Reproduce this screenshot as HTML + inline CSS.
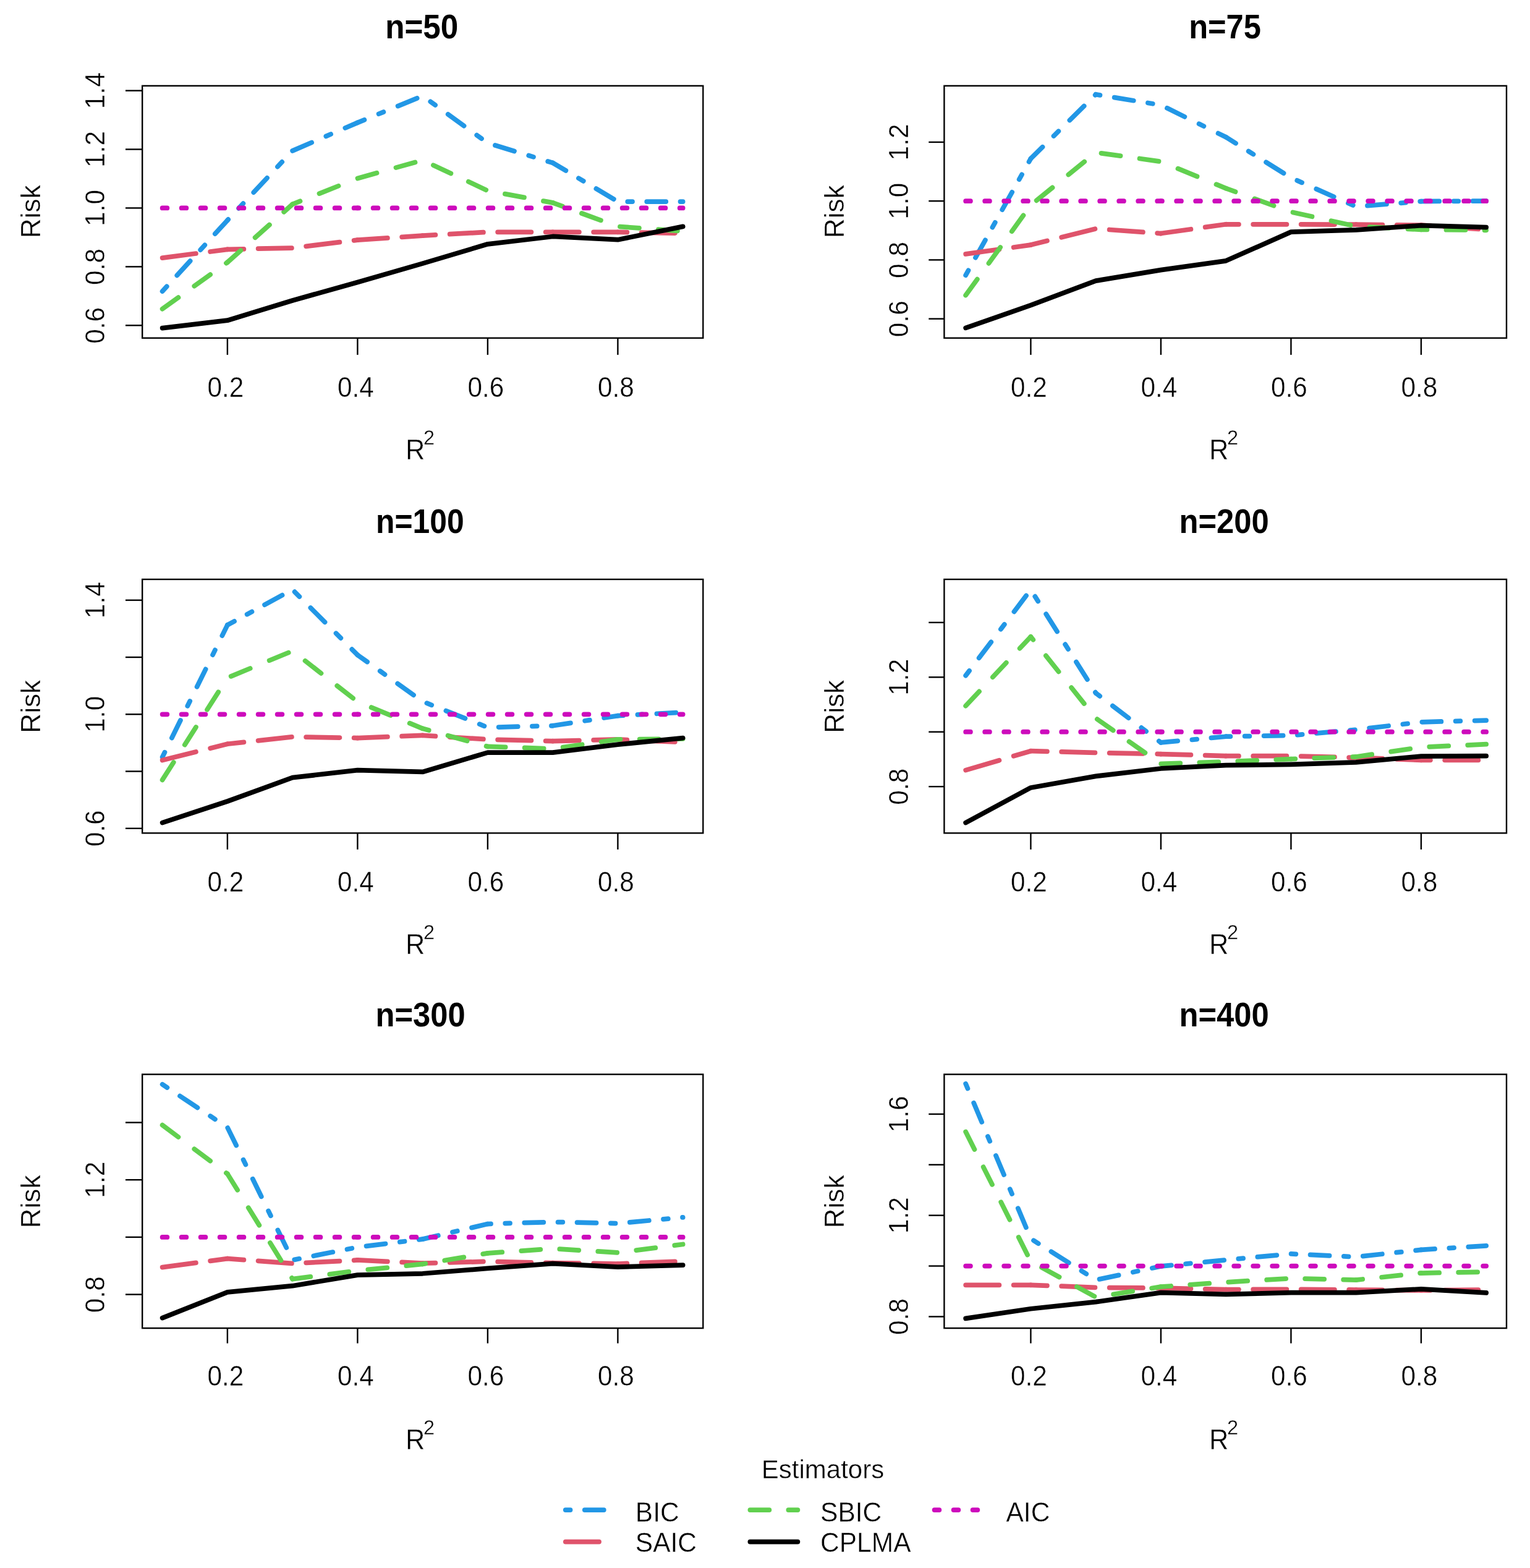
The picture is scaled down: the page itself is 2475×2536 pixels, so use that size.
<!DOCTYPE html>
<html><head><meta charset="utf-8"><title>Risk vs R2</title>
<style>html,body{margin:0;padding:0;background:#fff;}svg{display:block;}text{font-family:"Liberation Sans",Arial,Helvetica,sans-serif;fill:#000;}</style></head><body>
<svg width="2475" height="2536" viewBox="0 0 2475 2536">
<rect x="0" y="0" width="2475" height="2536" fill="#fff"/>
<clipPath id="clip0"><rect x="230.20" y="138.80" width="907.10" height="407.90"/></clipPath>
<g clip-path="url(#clip0)" fill="none" stroke-width="7.75" stroke-linecap="round" stroke-linejoin="round">
<g stroke="#2297E6">
<line x1="262.65" y1="471.23" x2="367.90" y2="356.37" stroke-dasharray="10.51 24.53 31.54 24.53" stroke-dashoffset="0.00"/>
<line x1="367.90" y1="356.37" x2="473.15" y2="243.89" stroke-dasharray="10.61 24.77 31.84 24.77" stroke-dashoffset="65.31"/>
<line x1="473.15" y1="243.89" x2="578.40" y2="198.33" stroke-dasharray="8.44 25.33 33.78 25.33" stroke-dashoffset="33.78"/>
<line x1="578.40" y1="198.33" x2="683.65" y2="155.14" stroke-dasharray="8.38 25.13 33.51 25.13" stroke-dashoffset="55.13"/>
<line x1="683.65" y1="155.14" x2="788.90" y2="231.32" stroke-dasharray="9.57 25.51 31.89 25.51" stroke-dashoffset="76.84"/>
<line x1="788.90" y1="231.32" x2="894.15" y2="263.35" stroke-dasharray="8.10 24.30 32.40 24.30" stroke-dashoffset="19.76"/>
<line x1="894.15" y1="263.35" x2="999.40" y2="326.00" stroke-dasharray="9.02 24.05 33.07 24.05" stroke-dashoffset="41.50"/>
<line x1="999.40" y1="326.00" x2="1104.65" y2="326.00" stroke-dasharray="7.75 23.25 31.00 23.25" stroke-dashoffset="69.40"/>
</g>
<g stroke="#DF536B">
<line x1="262.65" y1="417.12" x2="367.90" y2="403.36" stroke-dasharray="54.71 23.45" stroke-dashoffset="0.00"/>
<line x1="367.90" y1="403.36" x2="473.15" y2="400.99" stroke-dasharray="54.26 23.26" stroke-dashoffset="27.76"/>
<line x1="473.15" y1="400.99" x2="578.40" y2="388.17" stroke-dasharray="54.65 23.42" stroke-dashoffset="55.91"/>
<line x1="578.40" y1="388.17" x2="683.65" y2="381.05" stroke-dasharray="54.37 23.30" stroke-dashoffset="5.76"/>
<line x1="683.65" y1="381.05" x2="788.90" y2="375.36" stroke-dasharray="54.33 23.28" stroke-dashoffset="33.55"/>
<line x1="788.90" y1="375.36" x2="894.15" y2="375.36" stroke-dasharray="54.25 23.25" stroke-dashoffset="61.25"/>
<line x1="894.15" y1="375.36" x2="999.40" y2="375.36" stroke-dasharray="54.25 23.25" stroke-dashoffset="11.50"/>
<line x1="999.40" y1="375.36" x2="1104.65" y2="377.26" stroke-dasharray="54.26 23.25" stroke-dashoffset="39.26"/>
</g>
<g stroke="#61D04F">
<line x1="262.65" y1="499.70" x2="367.90" y2="424.24" stroke-dasharray="31.79 31.79" stroke-dashoffset="0.00"/>
<line x1="367.90" y1="424.24" x2="473.15" y2="330.27" stroke-dasharray="31.17 31.17" stroke-dashoffset="2.31"/>
<line x1="473.15" y1="330.27" x2="578.40" y2="288.51" stroke-dasharray="33.35 33.35" stroke-dashoffset="20.05"/>
<line x1="578.40" y1="288.51" x2="683.65" y2="259.08" stroke-dasharray="32.19 32.19" stroke-dashoffset="64.26"/>
<line x1="683.65" y1="259.08" x2="788.90" y2="308.44" stroke-dasharray="31.39 31.39" stroke-dashoffset="43.67"/>
<line x1="788.90" y1="308.44" x2="894.15" y2="327.90" stroke-dasharray="31.53 31.53" stroke-dashoffset="34.53"/>
<line x1="894.15" y1="327.90" x2="999.40" y2="366.34" stroke-dasharray="33.00 33.00" stroke-dashoffset="16.18"/>
<line x1="999.40" y1="366.34" x2="1104.65" y2="373.93" stroke-dasharray="31.08 31.08" stroke-dashoffset="58.60"/>
</g>
<polyline points="262.65,530.55 367.90,518.21 473.15,485.94 578.40,456.51 683.65,426.14 788.90,394.82 894.15,382.48 999.40,387.70 1104.65,366.34" stroke="#000000"/>
<g stroke="#CD0BBC">
<line x1="262.65" y1="336.44" x2="367.90" y2="336.44" stroke-dasharray="7.75 23.25" stroke-dashoffset="0.00"/>
<line x1="367.90" y1="336.44" x2="473.15" y2="336.44" stroke-dasharray="7.75 23.25" stroke-dashoffset="12.25"/>
<line x1="473.15" y1="336.44" x2="578.40" y2="336.44" stroke-dasharray="7.75 23.25" stroke-dashoffset="24.50"/>
<line x1="578.40" y1="336.44" x2="683.65" y2="336.44" stroke-dasharray="7.75 23.25" stroke-dashoffset="5.75"/>
<line x1="683.65" y1="336.44" x2="788.90" y2="336.44" stroke-dasharray="7.75 23.25" stroke-dashoffset="18.00"/>
<line x1="788.90" y1="336.44" x2="894.15" y2="336.44" stroke-dasharray="7.75 23.25" stroke-dashoffset="30.25"/>
<line x1="894.15" y1="336.44" x2="999.40" y2="336.44" stroke-dasharray="7.75 23.25" stroke-dashoffset="11.50"/>
<line x1="999.40" y1="336.44" x2="1104.65" y2="336.44" stroke-dasharray="7.75 23.25" stroke-dashoffset="23.75"/>
</g>
</g>
<rect x="230.20" y="138.80" width="907.10" height="407.90" fill="none" stroke="#000" stroke-width="2.4"/>
<line x1="367.90" y1="546.70" x2="367.90" y2="573.90" stroke="#000" stroke-width="2.4"/>
<text transform="translate(364.90,641.80) scale(1.0,1.09)" font-size="42.3" text-anchor="middle" stroke="#fff" stroke-width="0.4">0.2</text>
<line x1="578.40" y1="546.70" x2="578.40" y2="573.90" stroke="#000" stroke-width="2.4"/>
<text transform="translate(575.40,641.80) scale(1.0,1.09)" font-size="42.3" text-anchor="middle" stroke="#fff" stroke-width="0.4">0.4</text>
<line x1="788.90" y1="546.70" x2="788.90" y2="573.90" stroke="#000" stroke-width="2.4"/>
<text transform="translate(785.90,641.80) scale(1.0,1.09)" font-size="42.3" text-anchor="middle" stroke="#fff" stroke-width="0.4">0.6</text>
<line x1="999.40" y1="546.70" x2="999.40" y2="573.90" stroke="#000" stroke-width="2.4"/>
<text transform="translate(996.40,641.80) scale(1.0,1.09)" font-size="42.3" text-anchor="middle" stroke="#fff" stroke-width="0.4">0.8</text>
<line x1="230.20" y1="526.28" x2="203.00" y2="526.28" stroke="#000" stroke-width="2.4"/>
<line x1="230.20" y1="431.36" x2="203.00" y2="431.36" stroke="#000" stroke-width="2.4"/>
<line x1="230.20" y1="336.44" x2="203.00" y2="336.44" stroke="#000" stroke-width="2.4"/>
<line x1="230.20" y1="241.52" x2="203.00" y2="241.52" stroke="#000" stroke-width="2.4"/>
<line x1="230.20" y1="146.60" x2="203.00" y2="146.60" stroke="#000" stroke-width="2.4"/>
<text transform="translate(168.70,526.28) rotate(-90) scale(1.0,1.035)" font-size="42.5" text-anchor="middle" stroke="#fff" stroke-width="0.4">0.6</text>
<text transform="translate(168.70,431.36) rotate(-90) scale(1.0,1.035)" font-size="42.5" text-anchor="middle" stroke="#fff" stroke-width="0.4">0.8</text>
<text transform="translate(168.70,336.44) rotate(-90) scale(1.0,1.035)" font-size="42.5" text-anchor="middle" stroke="#fff" stroke-width="0.4">1.0</text>
<text transform="translate(168.70,241.52) rotate(-90) scale(1.0,1.035)" font-size="42.5" text-anchor="middle" stroke="#fff" stroke-width="0.4">1.2</text>
<text transform="translate(168.70,146.60) rotate(-90) scale(1.0,1.035)" font-size="42.5" text-anchor="middle" stroke="#fff" stroke-width="0.4">1.4</text>
<text transform="translate(682.25,61.80) scale(1.0044642857142858,1.085)" font-size="51" text-anchor="middle" font-weight="bold">n=50</text>
<text transform="translate(64.90,342.20) rotate(-90) scale(1.0,1.0)" font-size="44.3" text-anchor="middle" stroke="#fff" stroke-width="0.4">Risk</text>
<text transform="translate(656.30,742.70) scale(1.0,1.07)" font-size="43" text-anchor="start" stroke="#fff" stroke-width="0.4">R</text>
<text transform="translate(685.10,718.70) scale(1.0,1.0)" font-size="32.5" text-anchor="start" stroke="#fff" stroke-width="0.4">2</text>
<clipPath id="clip1"><rect x="1527.40" y="138.80" width="909.60" height="407.90"/></clipPath>
<g clip-path="url(#clip1)" fill="none" stroke-width="7.75" stroke-linecap="round" stroke-linejoin="round">
<g stroke="#2297E6">
<line x1="1562.15" y1="445.14" x2="1667.40" y2="256.57" stroke-dasharray="8.88 23.67 32.54 23.67" stroke-dashoffset="0.00"/>
<line x1="1667.40" y1="256.57" x2="1772.65" y2="152.76" stroke-dasharray="10.89 25.40 32.66 25.40" stroke-dashoffset="42.21"/>
<line x1="1772.65" y1="152.76" x2="1877.90" y2="169.90" stroke-dasharray="7.85 23.56 31.41 23.56" stroke-dashoffset="0.98"/>
<line x1="1877.90" y1="169.90" x2="1983.15" y2="221.80" stroke-dasharray="8.64 25.92 31.68 25.92" stroke-dashoffset="23.38"/>
<line x1="1983.15" y1="221.80" x2="2088.40" y2="287.52" stroke-dasharray="9.14 24.36 33.50 24.36" stroke-dashoffset="48.30"/>
<line x1="2088.40" y1="287.52" x2="2193.65" y2="334.19" stroke-dasharray="8.48 25.43 31.08 25.43" stroke-dashoffset="79.62"/>
<line x1="2193.65" y1="334.19" x2="2298.90" y2="325.62" stroke-dasharray="7.78 23.33 31.10 23.33" stroke-dashoffset="12.75"/>
<line x1="2298.90" y1="325.62" x2="2404.15" y2="325.14" stroke-dasharray="7.75 23.25 31.00 23.25" stroke-dashoffset="32.71"/>
</g>
<g stroke="#DF536B">
<line x1="1562.15" y1="410.86" x2="1667.40" y2="396.09" stroke-dasharray="54.78 23.48" stroke-dashoffset="0.00"/>
<line x1="1667.40" y1="396.09" x2="1772.65" y2="369.90" stroke-dasharray="55.90 23.96" stroke-dashoffset="28.60"/>
<line x1="1772.65" y1="369.90" x2="1877.90" y2="377.52" stroke-dasharray="54.39 23.31" stroke-dashoffset="55.65"/>
<line x1="1877.90" y1="377.52" x2="1983.15" y2="362.76" stroke-dasharray="54.78 23.48" stroke-dashoffset="5.81"/>
<line x1="1983.15" y1="362.76" x2="2088.40" y2="362.76" stroke-dasharray="54.25 23.25" stroke-dashoffset="33.50"/>
<line x1="2088.40" y1="362.76" x2="2193.65" y2="363.24" stroke-dasharray="54.25 23.25" stroke-dashoffset="61.25"/>
<line x1="2193.65" y1="363.24" x2="2298.90" y2="364.19" stroke-dasharray="54.25 23.25" stroke-dashoffset="11.50"/>
<line x1="2298.90" y1="364.19" x2="2404.15" y2="371.33" stroke-dasharray="54.37 23.30" stroke-dashoffset="39.34"/>
</g>
<g stroke="#61D04F">
<line x1="1562.15" y1="477.52" x2="1667.40" y2="331.81" stroke-dasharray="31.87 31.87" stroke-dashoffset="0.00"/>
<line x1="1667.40" y1="331.81" x2="1772.65" y2="246.57" stroke-dasharray="33.24 33.24" stroke-dashoffset="54.54"/>
<line x1="1772.65" y1="246.57" x2="1877.90" y2="261.33" stroke-dasharray="31.30 31.30" stroke-dashoffset="53.68"/>
<line x1="1877.90" y1="261.33" x2="1983.15" y2="304.66" stroke-dasharray="33.52 33.52" stroke-dashoffset="37.21"/>
<line x1="1983.15" y1="304.66" x2="2088.40" y2="342.76" stroke-dasharray="32.97 32.97" stroke-dashoffset="16.65"/>
<line x1="2088.40" y1="342.76" x2="2193.65" y2="366.09" stroke-dasharray="31.75 31.75" stroke-dashoffset="60.34"/>
<line x1="2193.65" y1="366.09" x2="2298.90" y2="371.33" stroke-dasharray="31.04 31.04" stroke-dashoffset="40.21"/>
<line x1="2298.90" y1="371.33" x2="2404.15" y2="372.28" stroke-dasharray="31.00 31.00" stroke-dashoffset="21.41"/>
</g>
<polyline points="1562.15,530.38 1667.40,493.71 1772.65,454.19 1877.90,436.57 1983.15,421.81 2088.40,375.14 2193.65,371.81 2298.90,364.66 2404.15,367.52" stroke="#000000"/>
<g stroke="#CD0BBC">
<line x1="1562.15" y1="325.14" x2="1667.40" y2="325.14" stroke-dasharray="7.75 23.25" stroke-dashoffset="0.00"/>
<line x1="1667.40" y1="325.14" x2="1772.65" y2="325.14" stroke-dasharray="7.75 23.25" stroke-dashoffset="12.25"/>
<line x1="1772.65" y1="325.14" x2="1877.90" y2="325.14" stroke-dasharray="7.75 23.25" stroke-dashoffset="24.50"/>
<line x1="1877.90" y1="325.14" x2="1983.15" y2="325.14" stroke-dasharray="7.75 23.25" stroke-dashoffset="5.75"/>
<line x1="1983.15" y1="325.14" x2="2088.40" y2="325.14" stroke-dasharray="7.75 23.25" stroke-dashoffset="18.00"/>
<line x1="2088.40" y1="325.14" x2="2193.65" y2="325.14" stroke-dasharray="7.75 23.25" stroke-dashoffset="30.25"/>
<line x1="2193.65" y1="325.14" x2="2298.90" y2="325.14" stroke-dasharray="7.75 23.25" stroke-dashoffset="11.50"/>
<line x1="2298.90" y1="325.14" x2="2404.15" y2="325.14" stroke-dasharray="7.75 23.25" stroke-dashoffset="23.75"/>
</g>
</g>
<rect x="1527.40" y="138.80" width="909.60" height="407.90" fill="none" stroke="#000" stroke-width="2.4"/>
<line x1="1667.40" y1="546.70" x2="1667.40" y2="573.90" stroke="#000" stroke-width="2.4"/>
<text transform="translate(1664.40,641.80) scale(1.0,1.09)" font-size="42.3" text-anchor="middle" stroke="#fff" stroke-width="0.4">0.2</text>
<line x1="1877.90" y1="546.70" x2="1877.90" y2="573.90" stroke="#000" stroke-width="2.4"/>
<text transform="translate(1874.90,641.80) scale(1.0,1.09)" font-size="42.3" text-anchor="middle" stroke="#fff" stroke-width="0.4">0.4</text>
<line x1="2088.40" y1="546.70" x2="2088.40" y2="573.90" stroke="#000" stroke-width="2.4"/>
<text transform="translate(2085.40,641.80) scale(1.0,1.09)" font-size="42.3" text-anchor="middle" stroke="#fff" stroke-width="0.4">0.6</text>
<line x1="2298.90" y1="546.70" x2="2298.90" y2="573.90" stroke="#000" stroke-width="2.4"/>
<text transform="translate(2295.90,641.80) scale(1.0,1.09)" font-size="42.3" text-anchor="middle" stroke="#fff" stroke-width="0.4">0.8</text>
<line x1="1527.40" y1="515.62" x2="1502.30" y2="515.62" stroke="#000" stroke-width="2.4"/>
<line x1="1527.40" y1="420.38" x2="1502.30" y2="420.38" stroke="#000" stroke-width="2.4"/>
<line x1="1527.40" y1="325.14" x2="1502.30" y2="325.14" stroke="#000" stroke-width="2.4"/>
<line x1="1527.40" y1="229.90" x2="1502.30" y2="229.90" stroke="#000" stroke-width="2.4"/>
<text transform="translate(1468.90,515.62) rotate(-90) scale(1.0,1.035)" font-size="42.5" text-anchor="middle" stroke="#fff" stroke-width="0.4">0.6</text>
<text transform="translate(1468.90,420.38) rotate(-90) scale(1.0,1.035)" font-size="42.5" text-anchor="middle" stroke="#fff" stroke-width="0.4">0.8</text>
<text transform="translate(1468.90,325.14) rotate(-90) scale(1.0,1.035)" font-size="42.5" text-anchor="middle" stroke="#fff" stroke-width="0.4">1.0</text>
<text transform="translate(1468.90,229.90) rotate(-90) scale(1.0,1.035)" font-size="42.5" text-anchor="middle" stroke="#fff" stroke-width="0.4">1.2</text>
<text transform="translate(1981.50,61.80) scale(0.9911504424778761,1.085)" font-size="51" text-anchor="middle" font-weight="bold">n=75</text>
<text transform="translate(1364.90,342.20) rotate(-90) scale(1.0,1.0)" font-size="44.3" text-anchor="middle" stroke="#fff" stroke-width="0.4">Risk</text>
<text transform="translate(1956.30,742.70) scale(1.0,1.07)" font-size="43" text-anchor="start" stroke="#fff" stroke-width="0.4">R</text>
<text transform="translate(1985.10,718.70) scale(1.0,1.0)" font-size="32.5" text-anchor="start" stroke="#fff" stroke-width="0.4">2</text>
<clipPath id="clip2"><rect x="230.20" y="937.00" width="907.10" height="410.40"/></clipPath>
<g clip-path="url(#clip2)" fill="none" stroke-width="7.75" stroke-linecap="round" stroke-linejoin="round">
<g stroke="#2297E6">
<line x1="262.65" y1="1224.47" x2="367.90" y2="1010.84" stroke-dasharray="8.64 25.92 31.68 25.92" stroke-dashoffset="0.00"/>
<line x1="367.90" y1="1010.84" x2="473.15" y2="953.63" stroke-dasharray="8.82 23.52 32.34 23.52" stroke-dashoffset="52.03"/>
<line x1="473.15" y1="953.63" x2="578.40" y2="1059.29" stroke-dasharray="10.94 25.52 32.82 25.52" stroke-dashoffset="89.82"/>
<line x1="578.40" y1="1059.29" x2="683.65" y2="1134.50" stroke-dasharray="9.53 25.40 31.75 25.40" stroke-dashoffset="47.39"/>
<line x1="683.65" y1="1134.50" x2="788.90" y2="1176.48" stroke-dasharray="8.34 25.03 33.38 25.03" stroke-dashoffset="84.48"/>
<line x1="788.90" y1="1176.48" x2="894.15" y2="1173.72" stroke-dasharray="7.75 23.26 31.01 23.26" stroke-dashoffset="13.23"/>
<line x1="894.15" y1="1173.72" x2="999.40" y2="1157.57" stroke-dasharray="7.84 23.52 31.36 23.52" stroke-dashoffset="33.61"/>
<line x1="999.40" y1="1157.57" x2="1104.65" y2="1152.03" stroke-dasharray="7.76 23.28 31.04 23.28" stroke-dashoffset="53.29"/>
</g>
<g stroke="#DF536B">
<line x1="262.65" y1="1229.55" x2="367.90" y2="1203.25" stroke-dasharray="55.92 23.96" stroke-dashoffset="0.00"/>
<line x1="367.90" y1="1203.25" x2="473.15" y2="1191.71" stroke-dasharray="54.57 23.39" stroke-dashoffset="27.92"/>
<line x1="473.15" y1="1191.71" x2="578.40" y2="1193.56" stroke-dasharray="54.26 23.25" stroke-dashoffset="55.51"/>
<line x1="578.40" y1="1193.56" x2="683.65" y2="1189.40" stroke-dasharray="54.29 23.27" stroke-dashoffset="5.75"/>
<line x1="683.65" y1="1189.40" x2="788.90" y2="1195.86" stroke-dasharray="54.35 23.29" stroke-dashoffset="33.56"/>
<line x1="788.90" y1="1195.86" x2="894.15" y2="1198.63" stroke-dasharray="54.27 23.26" stroke-dashoffset="61.27"/>
<line x1="894.15" y1="1198.63" x2="999.40" y2="1195.86" stroke-dasharray="54.27 23.26" stroke-dashoffset="11.50"/>
<line x1="999.40" y1="1195.86" x2="1104.65" y2="1200.48" stroke-dasharray="54.30 23.27" stroke-dashoffset="39.29"/>
</g>
<g stroke="#61D04F">
<line x1="262.65" y1="1261.38" x2="367.90" y2="1096.20" stroke-dasharray="33.69 33.69" stroke-dashoffset="0.00"/>
<line x1="367.90" y1="1096.20" x2="473.15" y2="1052.83" stroke-dasharray="33.53 33.53" stroke-dashoffset="60.78"/>
<line x1="473.15" y1="1052.83" x2="578.40" y2="1134.96" stroke-dasharray="32.77 32.77" stroke-dashoffset="39.58"/>
<line x1="578.40" y1="1134.96" x2="683.65" y2="1178.33" stroke-dasharray="33.53 33.53" stroke-dashoffset="42.99"/>
<line x1="683.65" y1="1178.33" x2="788.90" y2="1207.40" stroke-dasharray="32.16 32.16" stroke-dashoffset="21.78"/>
<line x1="788.90" y1="1207.40" x2="894.15" y2="1211.09" stroke-dasharray="31.02 31.02" stroke-dashoffset="2.25"/>
<line x1="894.15" y1="1211.09" x2="999.40" y2="1195.86" stroke-dasharray="31.32 31.32" stroke-dashoffset="45.97"/>
<line x1="999.40" y1="1195.86" x2="1104.65" y2="1194.94" stroke-dasharray="31.00 31.00" stroke-dashoffset="26.75"/>
</g>
<polyline points="262.65,1330.59 367.90,1295.99 473.15,1257.69 578.40,1245.69 683.65,1248.46 788.90,1217.09 894.15,1217.09 999.40,1204.17 1104.65,1193.56" stroke="#000000"/>
<g stroke="#CD0BBC">
<line x1="262.65" y1="1155.26" x2="367.90" y2="1155.26" stroke-dasharray="7.75 23.25" stroke-dashoffset="0.00"/>
<line x1="367.90" y1="1155.26" x2="473.15" y2="1155.26" stroke-dasharray="7.75 23.25" stroke-dashoffset="12.25"/>
<line x1="473.15" y1="1155.26" x2="578.40" y2="1155.26" stroke-dasharray="7.75 23.25" stroke-dashoffset="24.50"/>
<line x1="578.40" y1="1155.26" x2="683.65" y2="1155.26" stroke-dasharray="7.75 23.25" stroke-dashoffset="5.75"/>
<line x1="683.65" y1="1155.26" x2="788.90" y2="1155.26" stroke-dasharray="7.75 23.25" stroke-dashoffset="18.00"/>
<line x1="788.90" y1="1155.26" x2="894.15" y2="1155.26" stroke-dasharray="7.75 23.25" stroke-dashoffset="30.25"/>
<line x1="894.15" y1="1155.26" x2="999.40" y2="1155.26" stroke-dasharray="7.75 23.25" stroke-dashoffset="11.50"/>
<line x1="999.40" y1="1155.26" x2="1104.65" y2="1155.26" stroke-dasharray="7.75 23.25" stroke-dashoffset="23.75"/>
</g>
</g>
<rect x="230.20" y="937.00" width="907.10" height="410.40" fill="none" stroke="#000" stroke-width="2.4"/>
<line x1="367.90" y1="1347.40" x2="367.90" y2="1373.90" stroke="#000" stroke-width="2.4"/>
<text transform="translate(364.90,1442.40) scale(1.0,1.09)" font-size="42.3" text-anchor="middle" stroke="#fff" stroke-width="0.4">0.2</text>
<line x1="578.40" y1="1347.40" x2="578.40" y2="1373.90" stroke="#000" stroke-width="2.4"/>
<text transform="translate(575.40,1442.40) scale(1.0,1.09)" font-size="42.3" text-anchor="middle" stroke="#fff" stroke-width="0.4">0.4</text>
<line x1="788.90" y1="1347.40" x2="788.90" y2="1373.90" stroke="#000" stroke-width="2.4"/>
<text transform="translate(785.90,1442.40) scale(1.0,1.09)" font-size="42.3" text-anchor="middle" stroke="#fff" stroke-width="0.4">0.6</text>
<line x1="999.40" y1="1347.40" x2="999.40" y2="1373.90" stroke="#000" stroke-width="2.4"/>
<text transform="translate(996.40,1442.40) scale(1.0,1.09)" font-size="42.3" text-anchor="middle" stroke="#fff" stroke-width="0.4">0.8</text>
<line x1="230.20" y1="1339.82" x2="203.00" y2="1339.82" stroke="#000" stroke-width="2.4"/>
<line x1="230.20" y1="1247.54" x2="203.00" y2="1247.54" stroke="#000" stroke-width="2.4"/>
<line x1="230.20" y1="1155.26" x2="203.00" y2="1155.26" stroke="#000" stroke-width="2.4"/>
<line x1="230.20" y1="1062.98" x2="203.00" y2="1062.98" stroke="#000" stroke-width="2.4"/>
<line x1="230.20" y1="970.70" x2="203.00" y2="970.70" stroke="#000" stroke-width="2.4"/>
<text transform="translate(168.70,1339.82) rotate(-90) scale(1.0,1.035)" font-size="42.5" text-anchor="middle" stroke="#fff" stroke-width="0.4">0.6</text>
<text transform="translate(168.70,1155.26) rotate(-90) scale(1.0,1.035)" font-size="42.5" text-anchor="middle" stroke="#fff" stroke-width="0.4">1.0</text>
<text transform="translate(168.70,970.70) rotate(-90) scale(1.0,1.035)" font-size="42.5" text-anchor="middle" stroke="#fff" stroke-width="0.4">1.4</text>
<text transform="translate(679.35,862.40) scale(0.976595744680851,1.085)" font-size="51" text-anchor="middle" font-weight="bold">n=100</text>
<text transform="translate(64.90,1142.80) rotate(-90) scale(1.0,1.0)" font-size="44.3" text-anchor="middle" stroke="#fff" stroke-width="0.4">Risk</text>
<text transform="translate(656.30,1543.40) scale(1.0,1.07)" font-size="43" text-anchor="start" stroke="#fff" stroke-width="0.4">R</text>
<text transform="translate(685.10,1519.40) scale(1.0,1.0)" font-size="32.5" text-anchor="start" stroke="#fff" stroke-width="0.4">2</text>
<clipPath id="clip3"><rect x="1527.40" y="937.00" width="909.60" height="410.40"/></clipPath>
<g clip-path="url(#clip3)" fill="none" stroke-width="7.75" stroke-linecap="round" stroke-linejoin="round">
<g stroke="#2297E6">
<line x1="1562.15" y1="1092.61" x2="1667.40" y2="953.72" stroke-dasharray="9.72 25.93 32.41 25.93" stroke-dashoffset="0.00"/>
<line x1="1667.40" y1="953.72" x2="1772.65" y2="1120.91" stroke-dasharray="9.16 24.42 33.58 24.42" stroke-dashoffset="78.64"/>
<line x1="1772.65" y1="1120.91" x2="1877.90" y2="1200.97" stroke-dasharray="9.74 25.97 32.46 25.97" stroke-dashoffset="1.56"/>
<line x1="1877.90" y1="1200.97" x2="1983.15" y2="1191.24" stroke-dasharray="7.78 23.35 31.13 23.35" stroke-dashoffset="34.93"/>
<line x1="1983.15" y1="1191.24" x2="2088.40" y2="1189.47" stroke-dasharray="7.75 23.25 31.00 23.25" stroke-dashoffset="54.79"/>
<line x1="2088.40" y1="1189.47" x2="2193.65" y2="1180.18" stroke-dasharray="7.78 23.34 31.12 23.34" stroke-dashoffset="75.08"/>
<line x1="2193.65" y1="1180.18" x2="2298.90" y2="1167.80" stroke-dasharray="7.80 23.41 31.21 23.41" stroke-dashoffset="9.60"/>
<line x1="2298.90" y1="1167.80" x2="2404.15" y2="1165.14" stroke-dasharray="7.75 23.26 31.01 23.26" stroke-dashoffset="29.55"/>
</g>
<g stroke="#DF536B">
<line x1="1562.15" y1="1245.64" x2="1667.40" y2="1214.68" stroke-dasharray="56.55 24.24" stroke-dashoffset="0.00"/>
<line x1="1667.40" y1="1214.68" x2="1772.65" y2="1217.33" stroke-dasharray="54.27 23.26" stroke-dashoffset="27.76"/>
<line x1="1772.65" y1="1217.33" x2="1877.90" y2="1219.55" stroke-dasharray="54.26 23.26" stroke-dashoffset="55.51"/>
<line x1="1877.90" y1="1219.55" x2="1983.15" y2="1222.64" stroke-dasharray="54.27 23.26" stroke-dashoffset="5.75"/>
<line x1="1983.15" y1="1222.64" x2="2088.40" y2="1222.64" stroke-dasharray="54.25 23.25" stroke-dashoffset="33.50"/>
<line x1="2088.40" y1="1222.64" x2="2193.65" y2="1225.30" stroke-dasharray="54.27 23.26" stroke-dashoffset="61.27"/>
<line x1="2193.65" y1="1225.30" x2="2298.90" y2="1229.28" stroke-dasharray="54.29 23.27" stroke-dashoffset="11.51"/>
<line x1="2298.90" y1="1229.28" x2="2404.15" y2="1229.28" stroke-dasharray="54.25 23.25" stroke-dashoffset="39.25"/>
</g>
<g stroke="#61D04F">
<line x1="1562.15" y1="1141.70" x2="1667.40" y2="1029.80" stroke-dasharray="31.92 31.92" stroke-dashoffset="0.00"/>
<line x1="1667.40" y1="1029.80" x2="1772.65" y2="1161.61" stroke-dasharray="33.06 33.06" stroke-dashoffset="26.88"/>
<line x1="1772.65" y1="1161.61" x2="1877.90" y2="1235.47" stroke-dasharray="31.56 31.56" stroke-dashoffset="60.44"/>
<line x1="1877.90" y1="1235.47" x2="1983.15" y2="1231.93" stroke-dasharray="31.02 31.02" stroke-dashoffset="61.70"/>
<line x1="1983.15" y1="1231.93" x2="2088.40" y2="1227.51" stroke-dasharray="31.03 31.03" stroke-dashoffset="42.96"/>
<line x1="2088.40" y1="1227.51" x2="2193.65" y2="1223.97" stroke-dasharray="31.02 31.02" stroke-dashoffset="24.18"/>
<line x1="2193.65" y1="1223.97" x2="2298.90" y2="1208.49" stroke-dasharray="31.33 31.33" stroke-dashoffset="5.48"/>
<line x1="2298.90" y1="1208.49" x2="2404.15" y2="1203.62" stroke-dasharray="31.03 31.03" stroke-dashoffset="48.72"/>
</g>
<polyline points="1562.15,1330.56 1667.40,1273.95 1772.65,1255.37 1877.90,1242.99 1983.15,1237.68 2088.40,1236.35 2193.65,1232.82 2298.90,1223.08 2404.15,1222.64" stroke="#000000"/>
<g stroke="#CD0BBC">
<line x1="1562.15" y1="1183.72" x2="1667.40" y2="1183.72" stroke-dasharray="7.75 23.25" stroke-dashoffset="0.00"/>
<line x1="1667.40" y1="1183.72" x2="1772.65" y2="1183.72" stroke-dasharray="7.75 23.25" stroke-dashoffset="12.25"/>
<line x1="1772.65" y1="1183.72" x2="1877.90" y2="1183.72" stroke-dasharray="7.75 23.25" stroke-dashoffset="24.50"/>
<line x1="1877.90" y1="1183.72" x2="1983.15" y2="1183.72" stroke-dasharray="7.75 23.25" stroke-dashoffset="5.75"/>
<line x1="1983.15" y1="1183.72" x2="2088.40" y2="1183.72" stroke-dasharray="7.75 23.25" stroke-dashoffset="18.00"/>
<line x1="2088.40" y1="1183.72" x2="2193.65" y2="1183.72" stroke-dasharray="7.75 23.25" stroke-dashoffset="30.25"/>
<line x1="2193.65" y1="1183.72" x2="2298.90" y2="1183.72" stroke-dasharray="7.75 23.25" stroke-dashoffset="11.50"/>
<line x1="2298.90" y1="1183.72" x2="2404.15" y2="1183.72" stroke-dasharray="7.75 23.25" stroke-dashoffset="23.75"/>
</g>
</g>
<rect x="1527.40" y="937.00" width="909.60" height="410.40" fill="none" stroke="#000" stroke-width="2.4"/>
<line x1="1667.40" y1="1347.40" x2="1667.40" y2="1373.90" stroke="#000" stroke-width="2.4"/>
<text transform="translate(1664.40,1442.40) scale(1.0,1.09)" font-size="42.3" text-anchor="middle" stroke="#fff" stroke-width="0.4">0.2</text>
<line x1="1877.90" y1="1347.40" x2="1877.90" y2="1373.90" stroke="#000" stroke-width="2.4"/>
<text transform="translate(1874.90,1442.40) scale(1.0,1.09)" font-size="42.3" text-anchor="middle" stroke="#fff" stroke-width="0.4">0.4</text>
<line x1="2088.40" y1="1347.40" x2="2088.40" y2="1373.90" stroke="#000" stroke-width="2.4"/>
<text transform="translate(2085.40,1442.40) scale(1.0,1.09)" font-size="42.3" text-anchor="middle" stroke="#fff" stroke-width="0.4">0.6</text>
<line x1="2298.90" y1="1347.40" x2="2298.90" y2="1373.90" stroke="#000" stroke-width="2.4"/>
<text transform="translate(2295.90,1442.40) scale(1.0,1.09)" font-size="42.3" text-anchor="middle" stroke="#fff" stroke-width="0.4">0.8</text>
<line x1="1527.40" y1="1272.18" x2="1502.30" y2="1272.18" stroke="#000" stroke-width="2.4"/>
<line x1="1527.40" y1="1183.72" x2="1502.30" y2="1183.72" stroke="#000" stroke-width="2.4"/>
<line x1="1527.40" y1="1095.26" x2="1502.30" y2="1095.26" stroke="#000" stroke-width="2.4"/>
<line x1="1527.40" y1="1006.80" x2="1502.30" y2="1006.80" stroke="#000" stroke-width="2.4"/>
<text transform="translate(1468.90,1272.18) rotate(-90) scale(1.0,1.035)" font-size="42.5" text-anchor="middle" stroke="#fff" stroke-width="0.4">0.8</text>
<text transform="translate(1468.90,1095.26) rotate(-90) scale(1.0,1.035)" font-size="42.5" text-anchor="middle" stroke="#fff" stroke-width="0.4">1.2</text>
<text transform="translate(1980.10,862.40) scale(0.9943262411347517,1.085)" font-size="51" text-anchor="middle" font-weight="bold">n=200</text>
<text transform="translate(1364.90,1142.80) rotate(-90) scale(1.0,1.0)" font-size="44.3" text-anchor="middle" stroke="#fff" stroke-width="0.4">Risk</text>
<text transform="translate(1956.30,1543.40) scale(1.0,1.07)" font-size="43" text-anchor="start" stroke="#fff" stroke-width="0.4">R</text>
<text transform="translate(1985.10,1519.40) scale(1.0,1.0)" font-size="32.5" text-anchor="start" stroke="#fff" stroke-width="0.4">2</text>
<clipPath id="clip4"><rect x="230.20" y="1737.60" width="907.10" height="410.50"/></clipPath>
<g clip-path="url(#clip4)" fill="none" stroke-width="7.75" stroke-linecap="round" stroke-linejoin="round">
<g stroke="#2297E6">
<line x1="262.65" y1="1753.85" x2="367.90" y2="1823.38" stroke-dasharray="9.29 24.77 34.06 24.77" stroke-dashoffset="0.00"/>
<line x1="367.90" y1="1823.38" x2="473.15" y2="2037.98" stroke-dasharray="8.63 25.90 31.65 25.90" stroke-dashoffset="33.69"/>
<line x1="473.15" y1="2037.98" x2="578.40" y2="2017.12" stroke-dasharray="7.90 23.70 31.60 23.70" stroke-dashoffset="83.70"/>
<line x1="578.40" y1="2017.12" x2="683.65" y2="2004.14" stroke-dasharray="7.81 23.43 31.23 23.43" stroke-dashoffset="16.98"/>
<line x1="683.65" y1="2004.14" x2="788.90" y2="1979.58" stroke-dasharray="7.96 23.87 31.83 23.87" stroke-dashoffset="37.84"/>
<line x1="788.90" y1="1979.58" x2="894.15" y2="1976.33" stroke-dasharray="7.75 23.26 31.01 23.26" stroke-dashoffset="56.88"/>
<line x1="894.15" y1="1976.33" x2="999.40" y2="1978.65" stroke-dasharray="7.75 23.26 31.01 23.26" stroke-dashoffset="76.87"/>
<line x1="999.40" y1="1978.65" x2="1104.65" y2="1968.92" stroke-dasharray="7.78 23.35 31.13 23.35" stroke-dashoffset="11.65"/>
</g>
<g stroke="#DF536B">
<line x1="262.65" y1="2049.57" x2="367.90" y2="2035.66" stroke-dasharray="54.72 23.45" stroke-dashoffset="0.00"/>
<line x1="367.90" y1="2035.66" x2="473.15" y2="2043.54" stroke-dasharray="54.40 23.32" stroke-dashoffset="27.83"/>
<line x1="473.15" y1="2043.54" x2="578.40" y2="2037.98" stroke-dasharray="54.33 23.28" stroke-dashoffset="55.58"/>
<line x1="578.40" y1="2037.98" x2="683.65" y2="2043.08" stroke-dasharray="54.31 23.28" stroke-dashoffset="5.76"/>
<line x1="683.65" y1="2043.08" x2="788.90" y2="2040.30" stroke-dasharray="54.27 23.26" stroke-dashoffset="33.51"/>
<line x1="788.90" y1="2040.30" x2="894.15" y2="2042.62" stroke-dasharray="54.26 23.26" stroke-dashoffset="61.26"/>
<line x1="894.15" y1="2042.62" x2="999.40" y2="2044.01" stroke-dasharray="54.25 23.25" stroke-dashoffset="11.50"/>
<line x1="999.40" y1="2044.01" x2="1104.65" y2="2039.83" stroke-dasharray="54.29 23.27" stroke-dashoffset="39.28"/>
</g>
<g stroke="#61D04F">
<line x1="262.65" y1="1819.67" x2="367.90" y2="1898.47" stroke-dasharray="32.27 32.27" stroke-dashoffset="0.00"/>
<line x1="367.90" y1="1898.47" x2="473.15" y2="2068.57" stroke-dasharray="33.42 33.42" stroke-dashoffset="2.48"/>
<line x1="473.15" y1="2068.57" x2="578.40" y2="2055.13" stroke-dasharray="31.25 31.25" stroke-dashoffset="1.88"/>
<line x1="578.40" y1="2055.13" x2="683.65" y2="2044.47" stroke-dasharray="31.16 31.16" stroke-dashoffset="45.35"/>
<line x1="683.65" y1="2044.47" x2="788.90" y2="2026.86" stroke-dasharray="31.43 31.43" stroke-dashoffset="26.74"/>
<line x1="788.90" y1="2026.86" x2="894.15" y2="2019.44" stroke-dasharray="31.08 31.08" stroke-dashoffset="7.64"/>
<line x1="894.15" y1="2019.44" x2="999.40" y2="2025.93" stroke-dasharray="31.06 31.06" stroke-dashoffset="50.97"/>
<line x1="999.40" y1="2025.93" x2="1104.65" y2="2012.49" stroke-dasharray="31.25 31.25" stroke-dashoffset="32.38"/>
</g>
<polyline points="262.65,2131.61 367.90,2089.89 473.15,2079.70 578.40,2062.08 683.65,2059.76 788.90,2051.42 894.15,2043.54 999.40,2049.10 1104.65,2046.09" stroke="#000000"/>
<g stroke="#CD0BBC">
<line x1="262.65" y1="2000.90" x2="367.90" y2="2000.90" stroke-dasharray="7.75 23.25" stroke-dashoffset="0.00"/>
<line x1="367.90" y1="2000.90" x2="473.15" y2="2000.90" stroke-dasharray="7.75 23.25" stroke-dashoffset="12.25"/>
<line x1="473.15" y1="2000.90" x2="578.40" y2="2000.90" stroke-dasharray="7.75 23.25" stroke-dashoffset="24.50"/>
<line x1="578.40" y1="2000.90" x2="683.65" y2="2000.90" stroke-dasharray="7.75 23.25" stroke-dashoffset="5.75"/>
<line x1="683.65" y1="2000.90" x2="788.90" y2="2000.90" stroke-dasharray="7.75 23.25" stroke-dashoffset="18.00"/>
<line x1="788.90" y1="2000.90" x2="894.15" y2="2000.90" stroke-dasharray="7.75 23.25" stroke-dashoffset="30.25"/>
<line x1="894.15" y1="2000.90" x2="999.40" y2="2000.90" stroke-dasharray="7.75 23.25" stroke-dashoffset="11.50"/>
<line x1="999.40" y1="2000.90" x2="1104.65" y2="2000.90" stroke-dasharray="7.75 23.25" stroke-dashoffset="23.75"/>
</g>
</g>
<rect x="230.20" y="1737.60" width="907.10" height="410.50" fill="none" stroke="#000" stroke-width="2.4"/>
<line x1="367.90" y1="2148.10" x2="367.90" y2="2172.60" stroke="#000" stroke-width="2.4"/>
<text transform="translate(364.90,2240.60) scale(1.0,1.09)" font-size="42.3" text-anchor="middle" stroke="#fff" stroke-width="0.4">0.2</text>
<line x1="578.40" y1="2148.10" x2="578.40" y2="2172.60" stroke="#000" stroke-width="2.4"/>
<text transform="translate(575.40,2240.60) scale(1.0,1.09)" font-size="42.3" text-anchor="middle" stroke="#fff" stroke-width="0.4">0.4</text>
<line x1="788.90" y1="2148.10" x2="788.90" y2="2172.60" stroke="#000" stroke-width="2.4"/>
<text transform="translate(785.90,2240.60) scale(1.0,1.09)" font-size="42.3" text-anchor="middle" stroke="#fff" stroke-width="0.4">0.6</text>
<line x1="999.40" y1="2148.10" x2="999.40" y2="2172.60" stroke="#000" stroke-width="2.4"/>
<text transform="translate(996.40,2240.60) scale(1.0,1.09)" font-size="42.3" text-anchor="middle" stroke="#fff" stroke-width="0.4">0.8</text>
<line x1="230.20" y1="2093.60" x2="203.00" y2="2093.60" stroke="#000" stroke-width="2.4"/>
<line x1="230.20" y1="2000.90" x2="203.00" y2="2000.90" stroke="#000" stroke-width="2.4"/>
<line x1="230.20" y1="1908.20" x2="203.00" y2="1908.20" stroke="#000" stroke-width="2.4"/>
<line x1="230.20" y1="1815.50" x2="203.00" y2="1815.50" stroke="#000" stroke-width="2.4"/>
<text transform="translate(168.70,2093.60) rotate(-90) scale(1.0,1.035)" font-size="42.5" text-anchor="middle" stroke="#fff" stroke-width="0.4">0.8</text>
<text transform="translate(168.70,1908.20) rotate(-90) scale(1.0,1.035)" font-size="42.5" text-anchor="middle" stroke="#fff" stroke-width="0.4">1.2</text>
<text transform="translate(680.10,1660.40) scale(0.9943262411347517,1.085)" font-size="51" text-anchor="middle" font-weight="bold">n=300</text>
<text transform="translate(64.90,1943.40) rotate(-90) scale(1.0,1.0)" font-size="44.3" text-anchor="middle" stroke="#fff" stroke-width="0.4">Risk</text>
<text transform="translate(656.30,2344.10) scale(1.0,1.07)" font-size="43" text-anchor="start" stroke="#fff" stroke-width="0.4">R</text>
<text transform="translate(685.10,2320.10) scale(1.0,1.0)" font-size="32.5" text-anchor="start" stroke="#fff" stroke-width="0.4">2</text>
<clipPath id="clip5"><rect x="1527.40" y="1737.60" width="909.60" height="410.50"/></clipPath>
<g clip-path="url(#clip5)" fill="none" stroke-width="7.75" stroke-linecap="round" stroke-linejoin="round">
<g stroke="#2297E6">
<line x1="1562.15" y1="1752.77" x2="1667.40" y2="2003.35" stroke-dasharray="8.41 25.22 33.62 25.22" stroke-dashoffset="0.00"/>
<line x1="1667.40" y1="2003.35" x2="1772.65" y2="2070.09" stroke-dasharray="9.18 24.47 33.65 24.47" stroke-dashoffset="86.33"/>
<line x1="1772.65" y1="2070.09" x2="1877.90" y2="2047.98" stroke-dasharray="7.92 23.76 31.68 23.76" stroke-dashoffset="25.63"/>
<line x1="1877.90" y1="2047.98" x2="1983.15" y2="2037.74" stroke-dasharray="7.79 23.36 31.15 23.36" stroke-dashoffset="45.30"/>
<line x1="1983.15" y1="2037.74" x2="2088.40" y2="2027.92" stroke-dasharray="7.78 23.35 31.13 23.35" stroke-dashoffset="65.37"/>
<line x1="2088.40" y1="2027.92" x2="2193.65" y2="2032.83" stroke-dasharray="7.76 23.28 31.03 23.28" stroke-dashoffset="85.18"/>
<line x1="2193.65" y1="2032.83" x2="2298.90" y2="2021.37" stroke-dasharray="7.80 23.39 31.18 23.39" stroke-dashoffset="19.95"/>
<line x1="2298.90" y1="2021.37" x2="2404.15" y2="2014.81" stroke-dasharray="7.76 23.29 31.06 23.29" stroke-dashoffset="39.91"/>
</g>
<g stroke="#DF536B">
<line x1="1562.15" y1="2078.28" x2="1667.40" y2="2078.28" stroke-dasharray="54.25 23.25" stroke-dashoffset="0.00"/>
<line x1="1667.40" y1="2078.28" x2="1772.65" y2="2082.37" stroke-dasharray="54.29 23.27" stroke-dashoffset="27.77"/>
<line x1="1772.65" y1="2082.37" x2="1877.90" y2="2083.19" stroke-dasharray="54.25 23.25" stroke-dashoffset="55.50"/>
<line x1="1877.90" y1="2083.19" x2="1983.15" y2="2085.65" stroke-dasharray="54.26 23.26" stroke-dashoffset="5.75"/>
<line x1="1983.15" y1="2085.65" x2="2088.40" y2="2085.24" stroke-dasharray="54.25 23.25" stroke-dashoffset="33.50"/>
<line x1="2088.40" y1="2085.24" x2="2193.65" y2="2086.06" stroke-dasharray="54.25 23.25" stroke-dashoffset="61.25"/>
<line x1="2193.65" y1="2086.06" x2="2298.90" y2="2086.88" stroke-dasharray="54.25 23.25" stroke-dashoffset="11.50"/>
<line x1="2298.90" y1="2086.88" x2="2404.15" y2="2086.06" stroke-dasharray="54.25 23.25" stroke-dashoffset="39.25"/>
</g>
<g stroke="#61D04F">
<line x1="1562.15" y1="1830.56" x2="1667.40" y2="2040.20" stroke-dasharray="31.80 31.80" stroke-dashoffset="0.00"/>
<line x1="1667.40" y1="2040.20" x2="1772.65" y2="2097.93" stroke-dasharray="32.41 32.41" stroke-dashoffset="44.64"/>
<line x1="1772.65" y1="2097.93" x2="1877.90" y2="2081.14" stroke-dasharray="31.39 31.39" stroke-dashoffset="33.94"/>
<line x1="1877.90" y1="2081.14" x2="1983.15" y2="2073.77" stroke-dasharray="31.08 31.08" stroke-dashoffset="14.80"/>
<line x1="1983.15" y1="2073.77" x2="2088.40" y2="2067.63" stroke-dasharray="31.05 31.05" stroke-dashoffset="58.11"/>
<line x1="2088.40" y1="2067.63" x2="2193.65" y2="2070.09" stroke-dasharray="31.01 31.01" stroke-dashoffset="39.28"/>
<line x1="2193.65" y1="2070.09" x2="2298.90" y2="2059.03" stroke-dasharray="31.17 31.17" stroke-dashoffset="20.63"/>
<line x1="2298.90" y1="2059.03" x2="2404.15" y2="2056.99" stroke-dasharray="31.01 31.01" stroke-dashoffset="1.76"/>
</g>
<polyline points="1562.15,2132.33 1667.40,2116.77 1772.65,2105.71 1877.90,2090.56 1983.15,2093.43 2088.40,2090.56 2193.65,2090.56 2298.90,2084.83 2404.15,2090.97" stroke="#000000"/>
<g stroke="#CD0BBC">
<line x1="1562.15" y1="2047.57" x2="1667.40" y2="2047.57" stroke-dasharray="7.75 23.25" stroke-dashoffset="0.00"/>
<line x1="1667.40" y1="2047.57" x2="1772.65" y2="2047.57" stroke-dasharray="7.75 23.25" stroke-dashoffset="12.25"/>
<line x1="1772.65" y1="2047.57" x2="1877.90" y2="2047.57" stroke-dasharray="7.75 23.25" stroke-dashoffset="24.50"/>
<line x1="1877.90" y1="2047.57" x2="1983.15" y2="2047.57" stroke-dasharray="7.75 23.25" stroke-dashoffset="5.75"/>
<line x1="1983.15" y1="2047.57" x2="2088.40" y2="2047.57" stroke-dasharray="7.75 23.25" stroke-dashoffset="18.00"/>
<line x1="2088.40" y1="2047.57" x2="2193.65" y2="2047.57" stroke-dasharray="7.75 23.25" stroke-dashoffset="30.25"/>
<line x1="2193.65" y1="2047.57" x2="2298.90" y2="2047.57" stroke-dasharray="7.75 23.25" stroke-dashoffset="11.50"/>
<line x1="2298.90" y1="2047.57" x2="2404.15" y2="2047.57" stroke-dasharray="7.75 23.25" stroke-dashoffset="23.75"/>
</g>
</g>
<rect x="1527.40" y="1737.60" width="909.60" height="410.50" fill="none" stroke="#000" stroke-width="2.4"/>
<line x1="1667.40" y1="2148.10" x2="1667.40" y2="2172.60" stroke="#000" stroke-width="2.4"/>
<text transform="translate(1664.40,2240.60) scale(1.0,1.09)" font-size="42.3" text-anchor="middle" stroke="#fff" stroke-width="0.4">0.2</text>
<line x1="1877.90" y1="2148.10" x2="1877.90" y2="2172.60" stroke="#000" stroke-width="2.4"/>
<text transform="translate(1874.90,2240.60) scale(1.0,1.09)" font-size="42.3" text-anchor="middle" stroke="#fff" stroke-width="0.4">0.4</text>
<line x1="2088.40" y1="2148.10" x2="2088.40" y2="2172.60" stroke="#000" stroke-width="2.4"/>
<text transform="translate(2085.40,2240.60) scale(1.0,1.09)" font-size="42.3" text-anchor="middle" stroke="#fff" stroke-width="0.4">0.6</text>
<line x1="2298.90" y1="2148.10" x2="2298.90" y2="2172.60" stroke="#000" stroke-width="2.4"/>
<text transform="translate(2295.90,2240.60) scale(1.0,1.09)" font-size="42.3" text-anchor="middle" stroke="#fff" stroke-width="0.4">0.8</text>
<line x1="1527.40" y1="2129.46" x2="1502.30" y2="2129.46" stroke="#000" stroke-width="2.4"/>
<line x1="1527.40" y1="2047.57" x2="1502.30" y2="2047.57" stroke="#000" stroke-width="2.4"/>
<line x1="1527.40" y1="1965.68" x2="1502.30" y2="1965.68" stroke="#000" stroke-width="2.4"/>
<line x1="1527.40" y1="1883.79" x2="1502.30" y2="1883.79" stroke="#000" stroke-width="2.4"/>
<line x1="1527.40" y1="1801.90" x2="1502.30" y2="1801.90" stroke="#000" stroke-width="2.4"/>
<text transform="translate(1468.90,2129.46) rotate(-90) scale(1.0,1.035)" font-size="42.5" text-anchor="middle" stroke="#fff" stroke-width="0.4">0.8</text>
<text transform="translate(1468.90,1965.68) rotate(-90) scale(1.0,1.035)" font-size="42.5" text-anchor="middle" stroke="#fff" stroke-width="0.4">1.2</text>
<text transform="translate(1468.90,1801.90) rotate(-90) scale(1.0,1.035)" font-size="42.5" text-anchor="middle" stroke="#fff" stroke-width="0.4">1.6</text>
<text transform="translate(1980.10,1660.40) scale(0.9943262411347517,1.085)" font-size="51" text-anchor="middle" font-weight="bold">n=400</text>
<text transform="translate(1364.90,1943.40) rotate(-90) scale(1.0,1.0)" font-size="44.3" text-anchor="middle" stroke="#fff" stroke-width="0.4">Risk</text>
<text transform="translate(1956.30,2344.10) scale(1.0,1.07)" font-size="43" text-anchor="start" stroke="#fff" stroke-width="0.4">R</text>
<text transform="translate(1985.10,2320.10) scale(1.0,1.0)" font-size="32.5" text-anchor="start" stroke="#fff" stroke-width="0.4">2</text>
<text transform="translate(1331.00,2390.70) scale(1.0,1.02)" font-size="42" text-anchor="middle" stroke="#fff" stroke-width="0.4">Estimators</text>
<line x1="914.80" y1="2442.10" x2="991.80" y2="2442.10" stroke="#2297E6" stroke-width="7.75" stroke-linecap="round" stroke-dasharray="7.75 23.25 31.00 23.25"/>
<text transform="translate(1027.80,2461.00) scale(1.0,1.06)" font-size="42.5" text-anchor="start" stroke="#fff" stroke-width="0.4">BIC</text>
<line x1="914.80" y1="2493.60" x2="991.80" y2="2493.60" stroke="#DF536B" stroke-width="7.75" stroke-linecap="round" stroke-dasharray="54.25 23.25"/>
<text transform="translate(1027.80,2510.20) scale(1.0,1.06)" font-size="42.5" text-anchor="start" stroke="#fff" stroke-width="0.4">SAIC</text>
<line x1="1213.40" y1="2442.10" x2="1290.40" y2="2442.10" stroke="#61D04F" stroke-width="7.75" stroke-linecap="round" stroke-dasharray="31.00 31.00"/>
<text transform="translate(1327.10,2461.00) scale(1.0,1.06)" font-size="42.5" text-anchor="start" stroke="#fff" stroke-width="0.4">SBIC</text>
<line x1="1213.40" y1="2493.60" x2="1290.40" y2="2493.60" stroke="#000000" stroke-width="7.75" stroke-linecap="round"/>
<text transform="translate(1327.10,2510.20) scale(1.0,1.06)" font-size="42.5" text-anchor="start" stroke="#fff" stroke-width="0.4">CPLMA</text>
<line x1="1511.60" y1="2442.10" x2="1588.60" y2="2442.10" stroke="#CD0BBC" stroke-width="7.75" stroke-linecap="round" stroke-dasharray="7.75 23.25"/>
<text transform="translate(1627.50,2461.00) scale(1.0,1.06)" font-size="42.5" text-anchor="start" stroke="#fff" stroke-width="0.4">AIC</text>
</svg></body></html>
